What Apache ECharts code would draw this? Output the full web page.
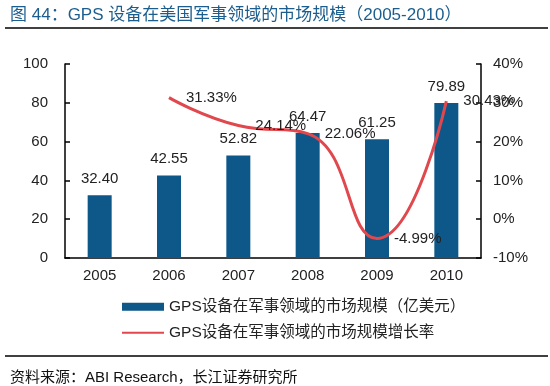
<!DOCTYPE html>
<html><head><meta charset="utf-8">
<script src="https://cdn.jsdelivr.net/npm/echarts@6/dist/echarts.min.js"></script>
<style>html,body{margin:0;padding:0;background:#fff}#c{width:550px;height:386px}</style>
</head><body><div id="c"></div>
<script>
const categories = ['2005','2006','2007','2008','2009','2010'];
const marketSize = [32.40, 42.55, 52.82, 64.47, 61.25, 79.89];
const growthRate = [null, 31.33, 24.14, 22.06, -4.99, 30.43];
const leftTicks = [0, 20, 40, 60, 80, 100];
const rightTicks = [-10, 0, 10, 20, 30, 40];
const seriesNames = ['GPS设备在军事领域的市场规模（亿美元）', 'GPS设备在军事领域的市场规模增长率'];
const titleText = '图 44：GPS 设备在美国军事领域的市场规模（2005-2010）';
const sourceText = '资料来源：ABI Research，长江证券研究所';

const FONT = '"Liberation Sans", Arial, "Noto Sans CJK SC", sans-serif';
const chart = echarts.init(document.getElementById('c'), null, {renderer: 'canvas'});
chart.setOption({
  animation: false,
  backgroundColor: '#fff',
  textStyle: {fontFamily: FONT},
  title: [
    {text: titleText, left: 5, top: 2, textStyle: {fontSize: 17, fontWeight: 'normal', color: '#1b5e8e', fontFamily: FONT}},
    {text: sourceText, left: 5, top: 365, textStyle: {fontSize: 15, fontWeight: 'normal', color: '#111', fontFamily: FONT}}
  ],
  graphic: [
    {type: 'line', shape: {x1: 5, y1: 28, x2: 548, y2: 28}, style: {stroke: '#000', lineWidth: 1.5}},
    {type: 'line', shape: {x1: 5, y1: 356, x2: 548, y2: 356}, style: {stroke: '#000', lineWidth: 1.5}}
  ],
  grid: {left: 65, right: 69, top: 64, bottom: 128},
  legend: [
    {data: [seriesNames[0]], left: 117, top: 294, icon: 'rect', itemWidth: 42, itemHeight: 8, itemGap: 4,
     textStyle: {fontSize: 15.5, color: '#222', fontFamily: FONT}},
    {data: [seriesNames[1]], left: 117, top: 320, icon: 'rect', itemWidth: 42, itemHeight: 2, itemGap: 4,
     textStyle: {fontSize: 15.5, color: '#222', fontFamily: FONT}}
  ],
  xAxis: {
    type: 'category', data: categories,
    axisLine: {lineStyle: {color: '#000', width: 1.5}},
    axisTick: {inside: true, length: 5, lineStyle: {color: '#000', width: 1.5}},
    axisLabel: {fontSize: 15, color: '#222', margin: 10}
  },
  yAxis: [
    {type: 'value', min: leftTicks[0], max: leftTicks[leftTicks.length-1], interval: 20,
     axisLine: {show: true, lineStyle: {color: '#000', width: 1.5}},
     axisTick: {show: true, inside: true, length: 5, lineStyle: {color: '#000', width: 1.5}},
     splitLine: {show: false},
     axisLabel: {fontSize: 15, color: '#222', margin: 17}},
    {type: 'value', min: rightTicks[0], max: rightTicks[rightTicks.length-1], interval: 10,
     axisLine: {show: true, lineStyle: {color: '#000', width: 1.5}},
     axisTick: {show: true, inside: true, length: 5, lineStyle: {color: '#000', width: 1.5}},
     splitLine: {show: false},
     axisLabel: {fontSize: 15, color: '#222', margin: 12, formatter: '{value}%'}}
  ],
  series: [
    {name: seriesNames[0], type: 'bar', data: marketSize, barWidth: 24,
     itemStyle: {color: '#0d5789'},
     label: {show: true, position: 'top', distance: 9, fontSize: 15, color: '#222',
             formatter: p => p.value.toFixed(2)}},
    {name: seriesNames[1], type: 'line', yAxisIndex: 1, data: growthRate, smooth: 0.5,
     symbol: 'circle', symbolSize: 0, showSymbol: true, lineStyle: {color: '#e0484e', width: 3}, itemStyle: {color: '#e0484e'},
     labelLayout: {hideOverlap: false},
     label: {show: true, position: 'right', distance: 17, fontSize: 15, color: '#222',
             formatter: p => p.value.toFixed(2) + '%'}}
  ]
});
</script></body></html>
